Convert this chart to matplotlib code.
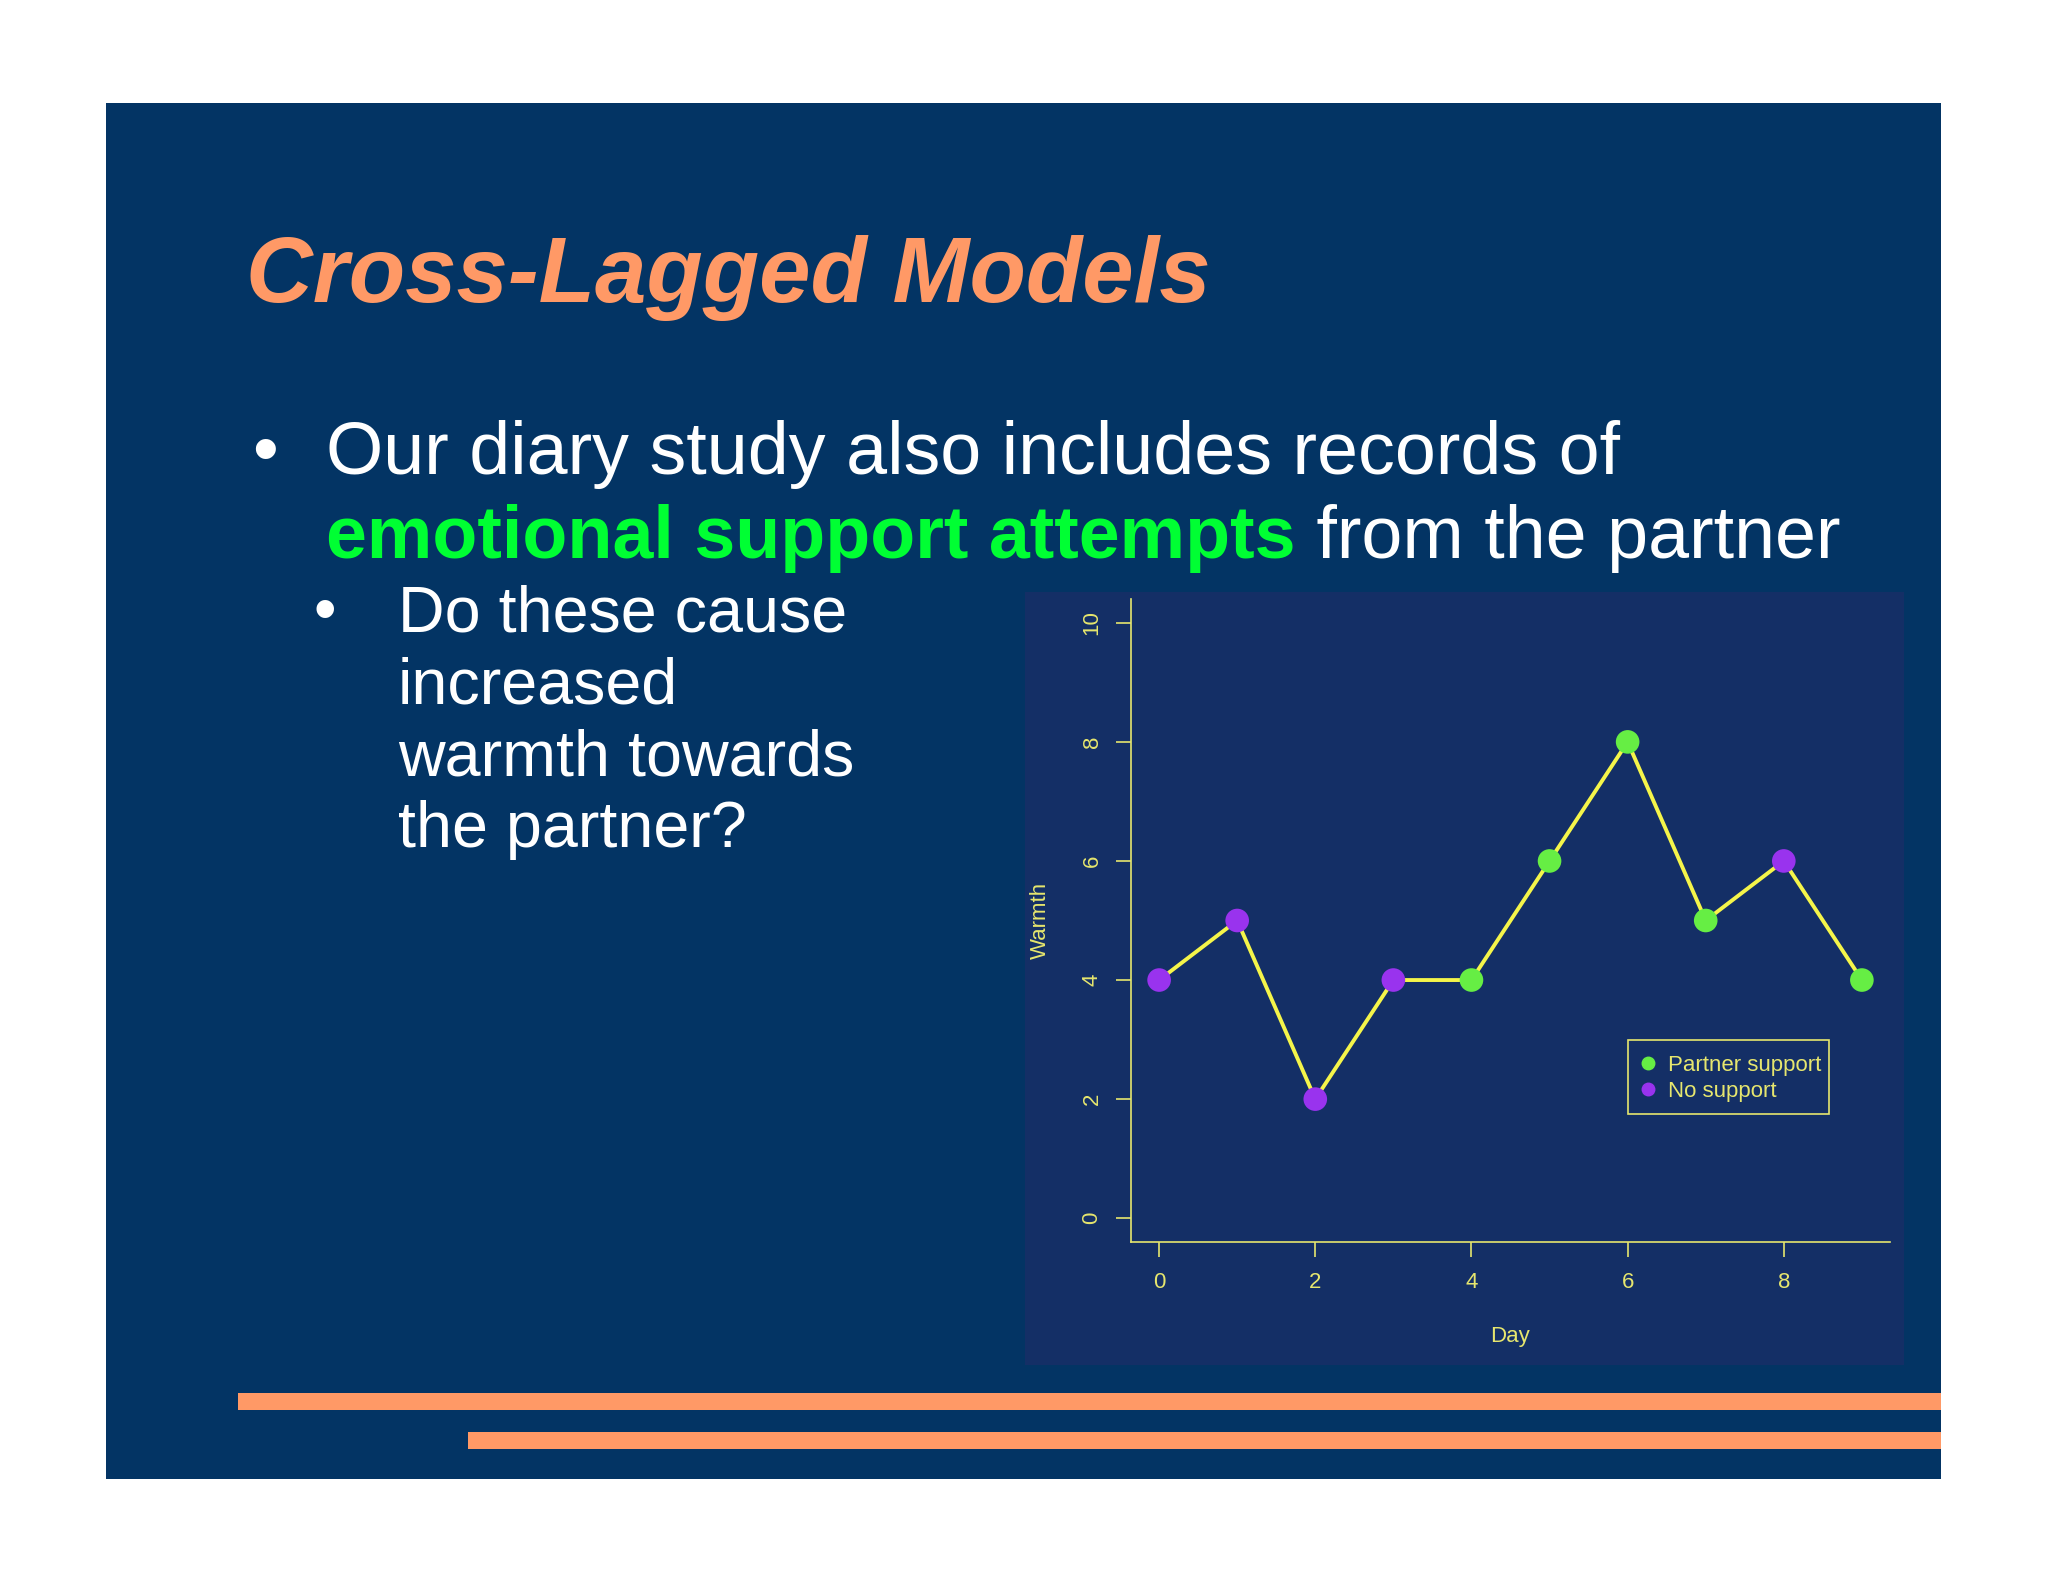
import matplotlib
matplotlib.use("Agg")
import matplotlib.pyplot as plt
from matplotlib.patches import Rectangle
from matplotlib.lines import Line2D

# data
days = [0, 1, 2, 3, 4, 5, 6, 7, 8, 9]
warmth = [4, 5, 2, 4, 4, 6, 8, 5, 6, 4]
support = [0, 0, 0, 0, 1, 1, 1, 1, 0, 1]   # 1 = partner support that day
legend_labels = ["Partner support", "No support"]
x_ticks = [0, 2, 4, 6, 8]
y_ticks = [0, 2, 4, 6, 8, 10]

title = "Cross-Lagged Models"
bullet_1a = "Our diary study also includes records of"
bullet_1b_green = "emotional support attempts"
bullet_1b_rest = " from the partner"
sub_bullet = ["Do these cause", "increased", "warmth towards", "the partner?"]

# colours
SLIDE_BG = "#033464"
PANEL_BG = "#142f66"
ORANGE = "#FF9966"
GREEN_TXT = "#00FF33"
YELLOW = "#F5F54A"
AXIS_COL = "#E6E66E"
GREEN = "#66EE44"
PURPLE = "#9933EE"

W, H = 2048, 1582
plt.rcParams['font.family'] = ['Liberation Sans', 'DejaVu Sans']

fig = plt.figure(figsize=(W / 100, H / 100), dpi=100)
fig.patch.set_facecolor("white")


def px(x, y):
    # pixel coords (from top-left) to figure fraction
    return x / W, 1 - y / H


def add_box(x0, y0, x1, y1, color, fill=True, z=-1):
    fx, fy = px(x0, y1)
    r = Rectangle((fx, fy), (x1 - x0) / W, (y1 - y0) / H, transform=fig.transFigure,
                  zorder=z, fill=fill)
    if fill:
        r.set_facecolor(color)
        r.set_edgecolor("none")
    else:
        r.set_edgecolor(color)
        r.set_linewidth(1.2)
    fig.patches.append(r)


# slide background, chart panel and orange bars
add_box(106, 103, 1941, 1479, SLIDE_BG)
add_box(1025, 592, 1904, 1365, PANEL_BG)
add_box(238, 1393, 1941, 1410, ORANGE)
add_box(468, 1432, 1941, 1449, ORANGE)

# slide text
fig.text(*px(246, 302), title, fontsize=66.5, fontweight="bold", fontstyle="italic",
         color=ORANGE, va="baseline")
fig.text(*px(252, 474), "\u2022", fontsize=53, color="white", va="baseline")
fig.text(*px(326, 474), bullet_1a, fontsize=53, color="white", va="baseline")
t_green = fig.text(*px(326, 558), bullet_1b_green, fontsize=53, fontweight="bold",
                   color=GREEN_TXT, va="baseline")
renderer = fig.canvas.get_renderer()
bb = t_green.get_window_extent(renderer)
fig.text(bb.x1 / W, 1 - 558 / H, bullet_1b_rest, fontsize=53, color="white", va="baseline")

fig.text(*px(314, 631), "\u2022", fontsize=46.5, color="white", va="baseline")
for i, line in enumerate(sub_bullet):
    fig.text(*px(398, 631 + i * 72), line, fontsize=46.5, color="white", va="baseline")

# the chart itself
ax = fig.add_axes([1131 / W, 1 - 1242 / H, 759 / W, 643 / H])
ax.set_zorder(2)
ax.set_facecolor("none")
ax.plot(days, warmth, color=YELLOW, linewidth=2.8, zorder=2)
pt_colors = [GREEN if s == 1 else PURPLE for s in support]
ax.scatter(days, warmth, c=pt_colors, s=17 ** 2, linewidths=0, zorder=3)

ax.set_xlim(-0.36, 9.36)
ax.set_ylim(-0.4, 10.4)
ax.set_xticks(x_ticks)
ax.set_yticks(y_ticks)
ax.set_yticklabels([str(v) for v in y_ticks], rotation=90, va="center")

for side in ["top", "right"]:
    ax.spines[side].set_visible(False)
for side in ["left", "bottom"]:
    ax.spines[side].set_color(AXIS_COL)
    ax.spines[side].set_linewidth(1.2)
ax.tick_params(axis="both", colors=AXIS_COL, labelcolor=AXIS_COL, direction="out",
               length=10.5, width=1.2, labelsize=16)
ax.tick_params(axis="x", pad=11)
ax.tick_params(axis="y", pad=10)

ax.set_xlabel("Day", fontsize=16, color=AXIS_COL)
ax.xaxis.set_label_coords(0.5, -0.131)
ax.set_ylabel("Warmth", fontsize=16, color=AXIS_COL)
ax.yaxis.set_label_coords(-0.106, 0.5)

# legend entries without frame, box drawn separately (R-style legend box)
handles = [Line2D([], [], marker="o", linestyle="none", markersize=9, color=GREEN),
           Line2D([], [], marker="o", linestyle="none", markersize=9, color=PURPLE)]
leg = ax.legend(handles, legend_labels, loc="upper left",
                bbox_to_anchor=px(1639, 1055), bbox_transform=fig.transFigure,
                fontsize=16, frameon=False, borderaxespad=0, borderpad=0,
                handlelength=0.8, handletextpad=0.5, labelspacing=0.23,
                labelcolor=AXIS_COL)
add_box(1628, 1040, 1829, 1114, AXIS_COL, fill=False, z=3)

fig.savefig("out.png", dpi=100, facecolor=fig.get_facecolor())
